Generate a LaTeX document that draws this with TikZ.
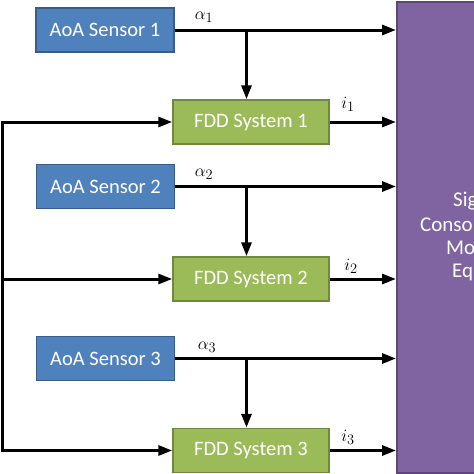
\documentclass[tikz,border=0pt]{standalone}
\usepackage{fontspec}
\setmainfont{Carlito}
\usetikzlibrary{arrows.meta}
\definecolor{sensorfill}{HTML}{4F81BD}
\definecolor{sensordraw}{HTML}{385D8A}
\definecolor{fddfill}{HTML}{9BBB59}
\definecolor{fdddraw}{HTML}{71893F}
\definecolor{mainfill}{HTML}{8064A2}
\definecolor{maindraw}{HTML}{5C4776}
\tikzset{
  sensorbox/.style={draw=sensordraw, fill=sensorfill, line width=1.5pt, minimum width=138pt, minimum height=44pt, inner sep=0pt, text=white, font=\fontsize{20.5}{24}\selectfont},
  fddbox/.style={draw=fdddraw, fill=fddfill, line width=1.5pt, minimum width=156pt, minimum height=44pt, inner sep=0pt, text=white, font=\fontsize{20.5}{24}\selectfont},
  wire/.style={line width=3pt, draw=black},
  arr/.style={wire, -{Triangle[length=14pt,width=10pt]}},
  sig/.style={inner sep=0pt, font=\fontsize{19}{22}\selectfont},
  maintext/.style={inner sep=0pt, anchor=base west, text=white, font=\fontsize{21}{24}\selectfont}
}
\begin{document}
\begin{tikzpicture}[x=1pt,y=-1pt]
\useasboundingbox (0,0) rectangle (474,474);
\clip (0,0) rectangle (474,474);
% main block
\node[draw=maindraw, fill=mainfill, line width=1.5pt, minimum width=170pt, minimum height=471pt, inner sep=0pt, anchor=north west] (P) at (396,1) {};
\node[maintext] (t1) at (453,206) {Sig};
\node[maintext] (t2) at (420,231) {Conso};
\node[maintext] (t3) at (446,254) {Mo};
\node[maintext] (t4) at (452,277) {Eq};
% sensors
\node[sensorbox] (s1) at (105,30) {AoA Sensor 1};
\node[sensorbox] (s2) at (105.5,186.5) {AoA Sensor 2};
\node[sensorbox] (s3) at (105.5,358.5) {AoA Sensor 3};
% FDD systems
\node[fddbox] (f1) at (251,122) {FDD System 1};
\node[fddbox] (f2) at (251,279) {FDD System 2};
\node[fddbox] (f3) at (251,450.5) {FDD System 3};
% branch points
\coordinate (b1) at (246.5,30);
\coordinate (b2) at (246.5,186.5);
\coordinate (b3) at (246.5,358.5);
% left bus
\coordinate (L1) at (2.5,122);
\coordinate (L2) at (2.5,279);
\coordinate (L3) at (2.5,450.5);
% sensor outputs
\draw[arr] (s1.east) -- (s1.east -| P.west);
\draw[arr] (s2.east) -- (s2.east -| P.west);
\draw[arr] (s3.east) -- (s3.east -| P.west);
\draw[arr] (b1) -- (b1 |- f1.north);
\draw[arr] (b2) -- (b2 |- f2.north);
\draw[arr] (b3) -- (b3 |- f3.north);
% FDD outputs
\draw[arr] (f1.east) -- (f1.east -| P.west);
\draw[arr] (f2.east) -- (f2.east -| P.west);
\draw[arr] (f3.east) -- (f3.east -| P.west);
% bus
\draw[wire, line cap=rect] (L1) -- (L3);
\draw[arr] (L1) -- (f1.west);
\draw[arr] (L2) -- (f2.west);
\draw[arr] (L3) -- (f3.west);
% labels
\node[sig] (a1) at (204,17) {$\alpha_1$};
\node[sig] (a2) at (204,174) {$\alpha_2$};
\node[sig] (a3) at (207,347) {$\alpha_3$};
\node[sig] (i1) at (348,104) {$i_1$};
\node[sig] (i2) at (351,266) {$i_2$};
\node[sig] (i3) at (348,437) {$i_3$};
\end{tikzpicture}
\end{document}
